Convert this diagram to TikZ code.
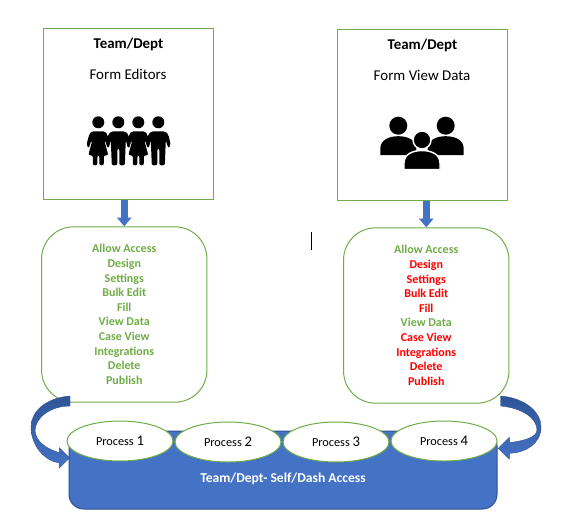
\documentclass[tikz,border=0pt]{standalone}
\usepackage{fontspec}
\setmainfont{Carlito}
\usetikzlibrary{shapes.geometric,arrows.meta,calc}
\definecolor{grn}{HTML}{70AD47}
\definecolor{blu}{HTML}{4472C4}
\definecolor{bluedge}{HTML}{2F528F}
\definecolor{bludark}{HTML}{2F5597}
\newcommand{\ok}[1]{\textcolor{grn}{#1}\\}
\newcommand{\no}[1]{\textcolor{red}{#1}\\}
\newcommand{\prc}[1]{Process {\fontsize{11pt}{12pt}\selectfont #1}}
\tikzset{
  x=0.75pt, y=-0.75pt,
  teambox/.style={draw=grn, line width=0.75pt, fill=white, minimum width=127.5pt, minimum height=127.5pt, inner sep=0},
  listbox/.style={draw=grn, line width=0.75pt, fill=white, rounded corners=24pt, minimum width=124pt, minimum height=131.5pt, inner sep=0, align=center, font=\fontsize{9pt}{10.95pt}\selectfont\bfseries},
  basebox/.style={draw=bluedge, line width=0.75pt, fill=blu, rounded corners=11pt, minimum width=321pt, minimum height=58.5pt, inner sep=0},
  proc/.style={ellipse, draw=grn, line width=0.75pt, fill=white, minimum width=79.5pt, minimum height=30pt, inner sep=0, font=\fontsize{9.2pt}{11pt}\selectfont},
  title/.style={font=\fontsize{11.2pt}{13pt}\selectfont\bfseries, inner sep=0},
  sub/.style={font=\fontsize{11.2pt}{13pt}\selectfont, inner sep=0},
  down/.style={line width=5.2pt, draw=blu, -{Triangle[length=6.5pt,width=10.5pt,fill=blu]}},
  curl/.style={draw=bluedge, line width=0.3pt, top color=bludark, bottom color=blu},
  pics/woman/.style={code={
    \fill (0,0) circle (6);
    \fill[rounded corners=1.5] (-7,9) -- (7,9) -- (9,12) -- (12,23) -- (9.5,26) -- (7,18) -- (6,18) -- (10,33) -- (5.5,33) -- (5.5,43) -- (1,43) -- (1,33) -- (-1,33) -- (-1,43) -- (-5.5,43) -- (-5.5,33) -- (-10,33) -- (-6,18) -- (-7,18) -- (-9.5,26) -- (-12,23) -- (-9,12) -- cycle;
  }},
  pics/man/.style={code={
    \fill (0,0) circle (6);
    \fill[rounded corners=1.5] (-7,9) -- (7,9) -- (10,12) -- (12.5,23) -- (10,26) -- (7.5,18) -- (6.5,43) -- (1,43) -- (1,26) -- (-1,26) -- (-1,43) -- (-6.5,43) -- (-7.5,18) -- (-10,26) -- (-12.5,23) -- (-10,12) -- cycle;
  }},
  pics/member/.style={code={
    \path[pic actions] (0,0) circle (9);
    \path[pic actions] (-18,29.5) -- (-18,23) .. controls (-18,14) and (-9,10.5) .. (0,10.5) .. controls (9,10.5) and (18,14) .. (18,23) -- (18,29.5) -- cycle;
  }},
}
\begin{document}
\begin{tikzpicture}
\useasboundingbox (0,0) rectangle (563,524);
\fill[white] (0,0) rectangle (563,524);

% team boxes
\node[teambox] (boxL) at (128.5,114) {};
\node[teambox] (boxR) at (422.5,115) {};
\node[title] (titleL) at (128.5,44.3) {Team/Dept};
\node[sub] (subL) at (128,74) {Form Editors};
\node[title] (titleR) at (422.5,45.3) {Team/Dept};
\node[sub] (subR) at (422,75) {Form View Data};

% icons
\pic[black] at (98.3,122.3) {woman};
\pic[black] at (118.3,122.3) {man};
\pic[black] at (138.3,122.3) {woman};
\pic[black] at (158.3,122.3) {man};
\pic[fill=black] at (398.3,125.7) {member};
\pic[fill=black] at (445.7,125.7) {member};
\pic[fill=black,draw=white,line width=1.1pt] at (422,140) {member};

% access lists
\node[listbox] (listL) at (124.25,314.5) {%
  \ok{Allow Access}\ok{Design}\ok{Settings}\ok{Bulk Edit}\ok{Fill}\ok{View Data}\ok{Case View}\ok{Integrations}\ok{Delete}\textcolor{grn}{Publish}};
\node[listbox] (listR) at (426.25,315.5) {%
  \ok{Allow Access}\no{Design}\no{Settings}\no{Bulk Edit}\no{Fill}\ok{View Data}\no{Case View}\no{Integrations}\no{Delete}\textcolor{red}{Publish}};

% connectors
\draw[down] (listL.north |- boxL.south) -- (listL.north);
\draw[down] (listR.north |- boxR.south) -- (listR.north);

% stray text cursor
\coordinate (caretA) at (311,232);
\coordinate (caretB) at (311,250);
\draw[black, line width=0.75pt] (caretA) -- (caretB);

% base
\node[basebox] (base) at (283,470) {};
\node[proc] (p1) at (120,441) {\prc{1}};
\node[proc] (p2) at (228,442) {\prc{2}};
\node[proc] (p3) at (336,442) {\prc{3}};
\node[proc] (p4) at (444,441) {\prc{4}};
\node[title, text=white, font=\fontsize{10.2pt}{12pt}\selectfont\bfseries] (baseT) at (283,479) {Team/Dept- Self/Dash Access};

% curved arrows
\path[curl] (70,396) .. controls (45,398) and (31,412) .. (31,427) .. controls (31,446) and (45,461) .. (59.3,463)
  -- (59.3,468) -- (69.5,458) -- (59.3,447.7) -- (59.3,452.7) .. controls (47,449) and (36,442) .. (35,431) .. controls (35,418) and (50,406) .. (70,406) -- cycle;
\path[curl] (500.7,396) .. controls (525,398) and (541,412) .. (541,427) .. controls (541,444) and (525,453) .. (509.3,453.3)
  -- (509.3,459) -- (498.3,448.3) -- (509.3,437.3) -- (509.3,442.7) .. controls (522,441) and (537,438) .. (537,430) .. controls (537,418) and (522,408) .. (500.7,406) -- cycle;
\end{tikzpicture}
\end{document}
